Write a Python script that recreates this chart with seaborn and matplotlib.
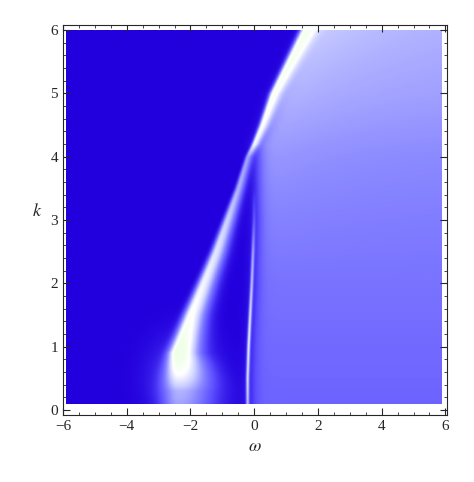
import numpy as np
import matplotlib
matplotlib.use("Agg")
import matplotlib.pyplot as plt
import seaborn as sns
from matplotlib.colors import LinearSegmentedColormap
from matplotlib.ticker import MultipleLocator

sns.set_style("ticks")
plt.rcParams["font.family"] = ["Liberation Serif", "DejaVu Serif"]
plt.rcParams["mathtext.fontset"] = "stix"

# ridge A (broad bright branch): k values and peak position in omega
ridge_a_k = [0.3, 0.9, 1.5, 2.0, 2.5, 3.0, 3.5, 4.0, 4.2, 4.5, 5.0, 5.5, 6.0]
ridge_a_w = [-2.4, -2.4, -2.0, -1.6, -1.2, -0.85, -0.5, -0.2, 0.0, 0.25, 0.6, 1.1, 1.6]
ridge_a_amp = [0.35, 0.95, 0.82, 0.76, 0.7, 0.62, 0.52, 0.45, 0.65, 0.68, 0.74, 0.76, 0.76]
ridge_a_wid = [0.5, 0.28, 0.22, 0.18, 0.15, 0.12, 0.09, 0.07, 0.07, 0.09, 0.11, 0.13, 0.15]

# ridge B (thin branch near omega = 0)
ridge_b_k = [0.1, 0.5, 1.0, 1.5, 2.0, 2.5, 3.0, 3.5]
ridge_b_w = [-0.2, -0.2, -0.17, -0.12, -0.07, -0.03, 0.0, 0.0]
ridge_b_amp = [0.5, 0.6, 0.65, 0.6, 0.5, 0.4, 0.15, 0.0]

# background level on the right-hand side, by k
bg_k = [0.1, 1, 2, 3, 4, 5, 6]
bg_right = [0.28, 0.30, 0.33, 0.36, 0.40, 0.46, 0.50]

w = np.linspace(-5.9, 5.9, 500)
k = np.linspace(0.1, 6.0, 500)
W, K = np.meshgrid(w, k)

wa = np.interp(K, ridge_a_k, ridge_a_w)
aa = np.interp(K, ridge_a_k, ridge_a_amp)
sa = np.interp(K, ridge_a_k, ridge_a_wid)
wb = np.interp(K, ridge_b_k, ridge_b_w)
ab = np.interp(K, ridge_b_k, ridge_b_amp)
bg = np.interp(K, bg_k, bg_right)

edge = np.where(K < 4.2, np.interp(K, ridge_b_k + [4.2], ridge_b_w + [0.0]), wa)
right = 1 / (1 + np.exp(-(W - edge - 0.15) / 0.12))
# extra light near the edge in the upper right
near = np.exp(-np.clip(W - edge, 0, None) / 2.5) * np.clip((K - 2) / 4, 0, 1)
z = (bg + 0.12 * near) * right
# ridge A falls off more slowly on its right side
sa_eff = np.where(W > wa, sa * 2.2, sa)
z += aa * np.exp(-((W - wa) / sa_eff) ** 2)
z += ab * np.exp(-((W - wb) / 0.05) ** 2)
# faint glow around the foot of ridge A
z += 0.2 * np.exp(-((W + 2.2) / 1.0) ** 2 - ((K - 0.5) / 0.6) ** 2)
z = np.clip(z, 0, 1)

cmap = LinearSegmentedColormap.from_list(
    "mm", ["#2200dd", "#5a4cff", "#8a88ff", "#c8ccff", "#ffffff", "#f0ffe8"])

fig = plt.figure(figsize=(4.74, 4.82), dpi=100)
ax = fig.add_axes([0.133, 0.139, 0.81, 0.809])
ax.imshow(z, origin="lower", extent=[-5.9, 5.9, 0.1, 6.0], cmap=cmap,
          vmin=0, vmax=1, aspect="auto", interpolation="bilinear")
ax.set_xlim(-6.0, 6.05)
ax.set_ylim(-0.08, 6.08)
ax.xaxis.set_major_locator(MultipleLocator(2))
ax.xaxis.set_minor_locator(MultipleLocator(0.5))
ax.yaxis.set_major_locator(MultipleLocator(1))
ax.yaxis.set_minor_locator(MultipleLocator(0.2))
ax.tick_params(which="both", direction="in", top=True, right=True, labelsize=11)
ax.tick_params(which="major", length=5)
ax.tick_params(which="minor", length=2.5)
ax.set_xlabel(r"$\omega$", fontsize=13)
ax.set_ylabel("$k$", fontsize=13, rotation=0, labelpad=10)
fig.savefig("out.png", dpi=100)
